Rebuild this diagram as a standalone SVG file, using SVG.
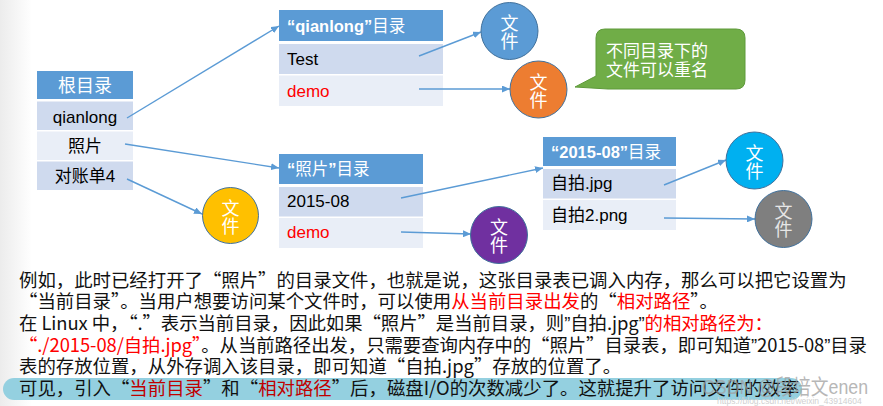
<svg xmlns="http://www.w3.org/2000/svg" width="883" height="406" viewBox="0 0 883 406">
<defs>
<linearGradient id="lg" x1="0" y1="0" x2="1" y2="0">
<stop offset="0" stop-color="#ececec"/>
<stop offset="1" stop-color="#ffffff"/>
</linearGradient>
<marker id="arr" markerUnits="userSpaceOnUse" markerWidth="8" markerHeight="7" refX="8" refY="3.5" orient="auto">
<path d="M0,0 L8,3.5 L0,7 z" fill="#5B9BD5"/>
</marker>
</defs>
<style>
.hdr{fill:#5B9BD5}
.r1{fill:#CFDAEE}
.r2{fill:#E9EEF7}
.cell{font-family:"Liberation Sans","Noto Sans CJK SC",sans-serif;font-size:17px;fill:#000}
.red{fill:#FF0000}
.dred{fill:#C00000}
.htxt{font-family:"Liberation Sans","Noto Sans CJK SC",sans-serif;font-size:16.5px;fill:#fff;font-weight:bold}
.cj{font-family:"Noto Sans CJK SC",sans-serif;font-weight:normal}
.circ{stroke:#41719C;stroke-width:1}
.ctxt{font-family:"Noto Sans CJK SC",sans-serif;font-size:18px;fill:#fff;text-anchor:middle}
.conn{stroke:#5B9BD5;stroke-width:1.4;fill:none;marker-end:url(#arr)}
.body{font-family:"Noto Sans CJK SC",sans-serif;font-size:18.4px;fill:#111}
.lq{font-family:"Liberation Sans",sans-serif}
</style>
<rect x="0" y="0" width="883" height="406" fill="#fff"/>
<rect x="0" y="0" width="32" height="406" fill="url(#lg)"/>

<g id="root-table">
<rect class="hdr" x="37" y="71" width="96" height="28"/>
<rect class="r1" x="37" y="101.5" width="96" height="28.5"/>
<rect class="r2" x="37" y="131.5" width="96" height="28.5"/>
<rect class="r1" x="37" y="161.5" width="96" height="28.5"/>
<text class="ctxt" x="85" y="92" style="font-size:18px">根目录</text>
<text class="cell" x="85" y="123" text-anchor="middle">qianlong</text>
<text class="cell" x="85" y="152" text-anchor="middle">照片</text>
<text class="cell" x="85" y="182" text-anchor="middle">对账单4</text>
</g>

<g id="qianlong-table">
<rect class="hdr" x="279" y="10" width="164" height="31"/>
<rect class="r1" x="279" y="44" width="164" height="30"/>
<rect class="r2" x="279" y="75.5" width="164" height="30.5"/>
<text class="htxt" x="287" y="31.5">“qianlong”<tspan class="cj">目录</tspan></text>
<text class="cell" x="287" y="65">Test</text>
<text class="cell red" x="287" y="97">demo</text>
</g>

<g id="photo-table">
<rect class="hdr" x="279" y="154" width="144" height="30"/>
<rect class="r1" x="279" y="187" width="144" height="29.5"/>
<rect class="r2" x="279" y="218" width="144" height="30"/>
<text class="htxt" x="287" y="175">“<tspan class="cj">照片</tspan>”<tspan class="cj">目录</tspan></text>
<text class="cell" x="287" y="207">2015-08</text>
<text class="cell red" x="287" y="238">demo</text>
</g>

<g id="dir2015-table">
<rect class="hdr" x="543" y="137" width="133" height="29"/>
<rect class="r1" x="543" y="169" width="133" height="29.5"/>
<rect class="r2" x="543" y="200" width="133" height="30"/>
<text class="htxt" x="551" y="158">“2015-08”<tspan class="cj">目录</tspan></text>
<text class="cell" x="551" y="189">自拍.jpg</text>
<text class="cell" x="551" y="221">自拍2.png</text>
</g>

<g id="connectors">
<path class="conn" d="M127,118 L279,26"/>
<path class="conn" d="M125,144 L279,168"/>
<path class="conn" d="M127,179 L202,214"/>
<path class="conn" d="M419,56 L481,32"/>
<path class="conn" d="M419,89 L510,89"/>
<path class="conn" d="M401,198 L543,168"/>
<path class="conn" d="M401,232 L471,234"/>
<path class="conn" d="M664,185 L726,160"/>
<path class="conn" d="M664,218 L755,219"/>
</g>

<g id="file-blue">
<circle class="circ" cx="509.5" cy="31" r="28.5" fill="#5B9BD5"/>
<text class="ctxt" x="509.5" y="30">文</text>
<text class="ctxt" x="509.5" y="48">件</text>
</g>
<g id="file-orange">
<circle class="circ" cx="538.5" cy="89.5" r="28.5" fill="#ED7D31"/>
<text class="ctxt" x="538.5" y="88.5">文</text>
<text class="ctxt" x="538.5" y="106.5">件</text>
</g>
<g id="file-yellow">
<circle class="circ" cx="230.5" cy="215.5" r="28" fill="#FFC000"/>
<text class="ctxt" x="230.5" y="214.5">文</text>
<text class="ctxt" x="230.5" y="232.5">件</text>
</g>
<g id="file-purple">
<circle class="circ" cx="499" cy="235" r="28.5" fill="#7030A0"/>
<text class="ctxt" x="499" y="234">文</text>
<text class="ctxt" x="499" y="252">件</text>
</g>
<g id="file-cyan">
<circle class="circ" cx="754.5" cy="160.5" r="28.5" fill="#00B0F0"/>
<text class="ctxt" x="754.5" y="159.5">文</text>
<text class="ctxt" x="754.5" y="177.5">件</text>
</g>
<g id="file-gray">
<circle class="circ" cx="783.5" cy="219" r="28.5" fill="#7F7F7F"/>
<text class="ctxt" x="783.5" y="218" style="fill:#E6E6E6">文</text>
<text class="ctxt" x="783.5" y="236" style="fill:#E6E6E6">件</text>
</g>

<g id="callout">
<path d="M605,29 H736 Q745,29 745,38 V80 Q745,89 736,89 H608 L575,87 L596,76 V38 Q596,29 605,29 Z" fill="#70AD47" stroke="#5E9A3A" stroke-width="1"/>
<text class="ctxt" x="606" y="57" style="font-size:17px;text-anchor:start">不同目录下的</text>
<text class="ctxt" x="606" y="76" style="font-size:17px;text-anchor:start">文件可以重名</text>
</g>

<g id="body-text">
<rect x="3" y="378" width="799" height="22" rx="11" fill="#94D0E0"/>
<text class="body" x="19" y="286.5">例如，此时已经打开了“照片”的目录文件，也就是说，这张目录表已调入内存，那么可以把它设置为</text>
<text class="body" x="19" y="308">“当前目录”。当用户想要访问某个文件时，可以使用<tspan class="red">从当前目录出发</tspan>的“<tspan class="red">相对路径</tspan>”。</text>
<text class="body" x="19" y="330" textLength="754" lengthAdjust="spacing">在 Linux 中，“.”表示当前目录，因此如果“照片”是当前目录，则<tspan class="lq">”</tspan>自拍.jpg<tspan class="lq">”</tspan><tspan class="red">的相对路径为：</tspan></text>
<text class="body" x="19" y="351.5" textLength="848" lengthAdjust="spacing"><tspan class="red">“./2015-08/自拍.jpg”</tspan>。从当前路径出发，只需要查询内存中的“照片”目录表，即可知道<tspan class="lq">”</tspan>2015-08<tspan class="lq">”</tspan>目录</text>
<text class="body" x="19" y="373">表的存放位置，从外存调入该目录，即可知道“自拍.jpg”存放的位置了。</text>
<text class="body" x="19" y="395">可见，引入“<tspan class="dred">当前目录</tspan>”和“<tspan class="dred">相对路径</tspan>”后，磁盘I/O的次数减少了。这就提升了访问文件的效率</text>
</g>

<g id="watermark">
<text x="702" y="394" textLength="166" lengthAdjust="spacingAndGlyphs" style="font-family:'Liberation Sans','Noto Sans CJK SC',sans-serif;font-size:21px;fill:#A0A0A0;opacity:0.75">CSDN @段培文enen</text>
<text x="717" y="404" style="font-family:'Liberation Sans',sans-serif;font-size:8.5px;fill:#D0D0D0">https://blog.csdn.net/weixin_43914604</text>
</g>
</svg>
